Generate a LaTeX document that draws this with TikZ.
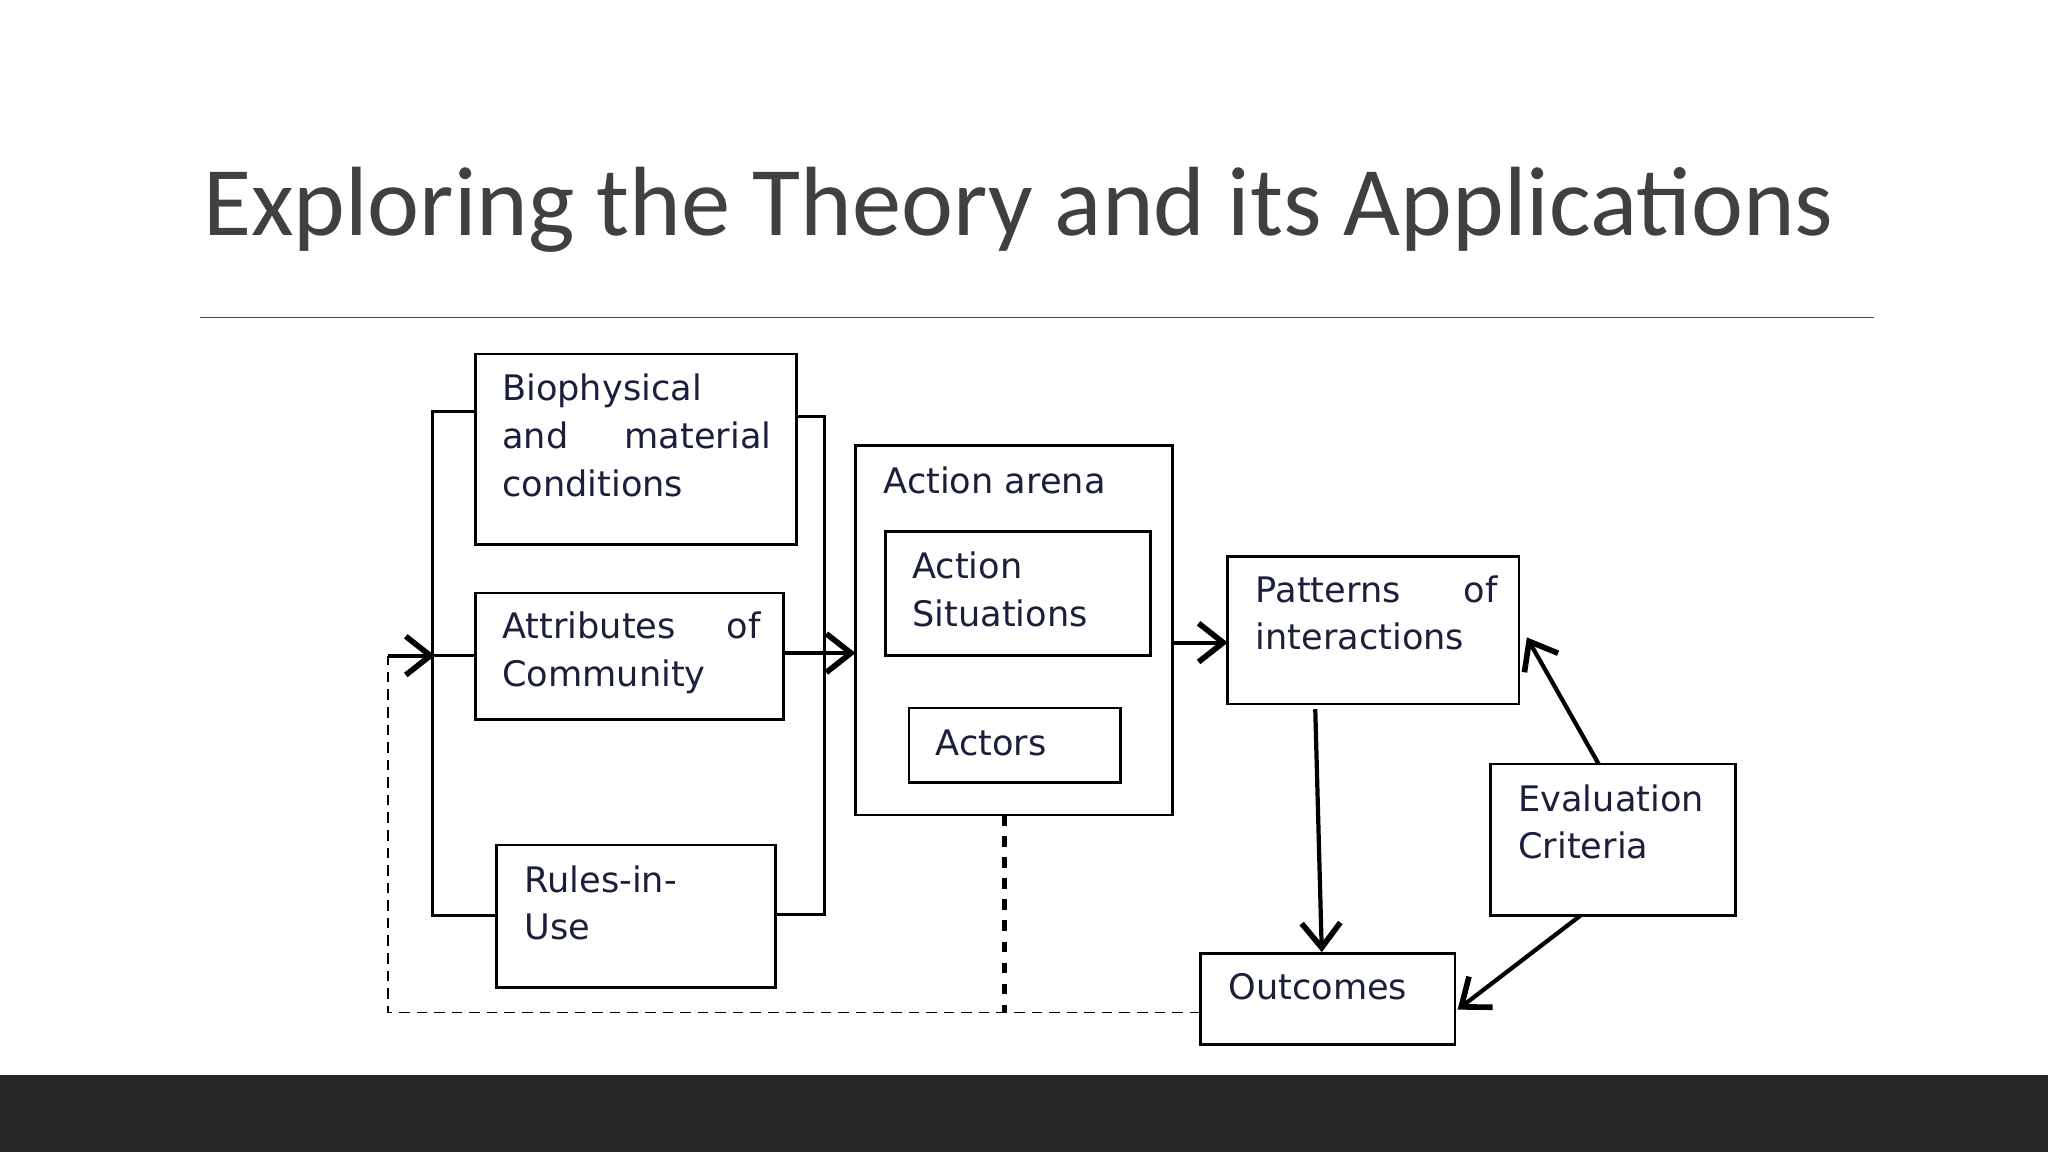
\documentclass[tikz,border=0pt]{standalone}
\usepackage{fontspec}
\setmainfont{DejaVu Sans}
\newfontfamily\titlefont{Carlito}
\usetikzlibrary{arrows.meta}
\definecolor{txtblue}{HTML}{1B1F3B}
\definecolor{titlegray}{HTML}{404040}
\definecolor{barcol}{HTML}{262626}
\newlength{\px}
\setlength{\px}{0.013061cm}
\tikzset{
  lbl/.style={anchor=north west, text=txtblue, font=\fontsize{10}{13.6}\selectfont,
    inner sep=0pt},
  link/.style={-{Straight Barb[length=7pt,width=11pt,line width=1.6pt]}, very thick},
  frame/.style={thick}
}
\begin{document}
\begin{tikzpicture}[x=0.013061cm, y=-0.013061cm]
  \useasboundingbox (0,0) rectangle (1568,882);
  \fill[white] (0,0) rectangle (1568,882);
  \fill[barcol] (0,823) rectangle (1568,882);
  % title
  \node (title) [anchor=base west, inner sep=0pt, text=titlegray,
    font=\titlefont\fontsize{28}{32}\selectfont] at (155,180)
    {Exploring the Theory and its Applications};
  \draw[black!70] (153,243) -- (1435,243);

  % boxes
  \draw[frame] (364,271) rectangle (610,417);
  \draw[frame] (364,454) rectangle (600,551);
  \draw[frame] (380,647) rectangle (594,756);
  \draw[frame] (655,341) rectangle (898,624);
  \draw[frame] (678,407) rectangle (881,502);
  \draw[frame] (696,542) rectangle (858,599);
  \draw[frame] (940,426) rectangle (1163,539);
  \draw[frame] (1141,585) rectangle (1329,701);
  \draw[frame] (919,730) rectangle (1114,800);

  % labels
  \node[lbl] (bio) at (384,286) {\parbox{206\px}{Biophysical\\and\hfill material\\conditions}};
  \node[lbl] (attr) at (384,468) {\parbox{198\px}{Attributes\hfill of\\Community}};
  \node[lbl] (rules) at (401,662) {\parbox{190\px}{Rules-in-\\Use}};
  \node[lbl] (arena) at (676,357) {Action arena};
  \node[lbl] (sit) at (698,422) {\parbox{170\px}{Action\\Situations}};
  \node[lbl] (actors) at (716,558) {Actors};
  \node[lbl] (pat) at (961,440) {\parbox{185\px}{Patterns\hfill of\\interactions}};
  \node[lbl] (eval) at (1162,600) {\parbox{160\px}{Evaluation\\Criteria}};
  \node[lbl] (out) at (940,745) {Outcomes};

  % brackets
  \draw[frame] (364,315) -- (331,315) -- (331,701) -- (380,701);
  \draw[frame] (610,319) -- (631,319) -- (631,700) -- (594,700);
  \draw[frame] (331,502) -- (364,502);

  % connectors
  \coordinate (fbA) at (297,775);
  \coordinate (fbB) at (297,502);
  \draw[densely dashed, thin] (919,775) -- (fbA) -- (fbB);
  \draw[link] (fbB) -- (333,502);
  \draw[very thick, dashed] (769,624) -- (769,775);
  \draw[link] (600,500) -- (655,500);
  \draw[link] (898,492) -- (940,492);
  \draw[link] (1007,543) -- (1012,729);
  \draw[link] (1224,585) -- (1169,488);
  \draw[link] (1210,701) -- (1116,773);
\end{tikzpicture}
\end{document}
